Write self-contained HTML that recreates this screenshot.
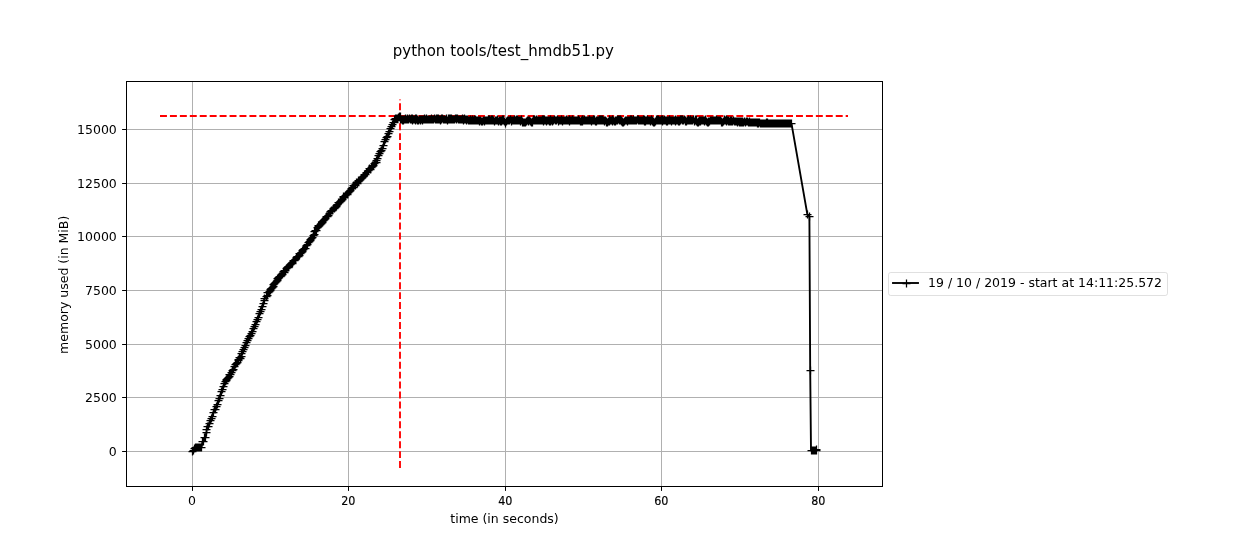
<!DOCTYPE html>
<html lang="en"><head><meta charset="utf-8"><title>python tools/test_hmdb51.py</title>
<style>html,body{margin:0;padding:0;background:#fff;overflow:hidden}svg{display:block}text{font-family:"DejaVu Sans","Liberation Sans",sans-serif;fill:#000}.t{font-size:12.5px}.title{font-size:15px}</style></head><body>
<svg width="1260" height="540" viewBox="0 0 1260 540">
<rect width="1260" height="540" fill="#fff"/>
<path d="M192.5 81.5V486.5M348.5 81.5V486.5M505.5 81.5V486.5M661.5 81.5V486.5M818.5 81.5V486.5M126.5 451.5H882.5M126.5 397.5H882.5M126.5 344.5H882.5M126.5 290.5H882.5M126.5 236.5H882.5M126.5 183.5H882.5M126.5 129.5H882.5" stroke="#b0b0b0" stroke-width="1" fill="none"/>
<g stroke="#f00" stroke-width="1.875" fill="none" stroke-dasharray="6.9375 3">
<path d="M160 116H848"/>
<path d="M400 468V99.4"/>
</g>
<path d="M192.5 451.5L193.5 450.2L194.5 448.6L195.5 447.6L196.5 447.6L197.5 447.6L198.5 447.6L199.5 447.6L200.5 447.6L201.5 447.6L202.5 441.5L203.5 441.5L204.5 437.5L205.5 437.5L206.5 432.5L206.6 429.5L207.5 426.5L208.5 426.5L209.22 423.6L210.16 420.11L211.25 418.85L212.29 416.02L213.19 412.56L214.19 409.94L215.03 409.53L215.84 409.59L216.46 406.69L217.55 404.18L218.38 400.11L219.38 398.1L220.41 395.2L221.35 391.34L222.47 389.21L223.46 386.77L224.32 383.78L225.24 381.28L226.02 380.82L226.99 379.61L227.7 378.69L228.43 377.86L229.15 376.22L229.99 374.05L230.89 374.36L231.61 372.71L232.3 370.54L233.06 369.85L233.9 369.9L234.78 366.63L235.68 365L236.55 363.7L237.31 362.59L238.11 360.64L238.86 359.02L239.52 357.88L240.39 358.3L241.17 356.02L241.94 353.82L242.87 351.75L243.99 349.82L244.98 347.9L245.94 345.65L246.95 342.06L247.87 340.34L248.88 338.14L249.55 336.94L250.39 335.54L251.39 333.85L252.35 331.26L253.27 328.63L254.22 326.62L255.35 324.23L256.2 321.96L257.21 319.95L258.1 317.64L259.13 313.3L260.06 311.44L261.1 309.12L262.16 306.02L263.21 303.46L264.1 300.68L264.99 298.2L266.06 296.39L267.01 295.03L267.74 292.65L268.62 292.42L269.39 291.04L270.25 290.33L270.83 289.76L271.8 288.11L272.42 287.55L273.29 286.32L273.98 284.46L274.83 283.09L275.72 282.57L276.36 281.42L277.23 280.84L277.9 278.07L278.83 277.21L279.42 276.62L280.3 276.49L281.05 275.83L281.83 275.41L282.62 274.05L283.52 271.4L284.27 272.66L284.93 270.26L285.73 270.47L286.52 268.12L287.41 267.61L288.08 266.98L288.81 267.12L289.71 265.74L290.58 264.69L291.23 263.98L292.11 263.09L292.92 262.16L293.64 260.59L294.33 260.97L295.17 259.69L296 259.53L296.72 257.29L297.41 256.91L298.4 256.68L299.07 255.44L299.89 253.82L300.59 253.05L301.38 252.36L302.17 251.06L302.88 250.43L303.85 249.47L304.65 248.31L305.34 248.26L306.09 245.84L306.82 245.5L307.7 244.17L308.57 242.6L309.19 241.17L310.12 240.91L310.72 239.07L311.7 238.51L312.43 237.85L313.21 235.18L314.04 234.61L314.87 231.67L315.72 230.23L316.54 230.16L317.26 227.99L318.01 225.97L318.73 226.21L319.62 225.96L320.4 224.04L321.08 223.11L322.04 222.64L322.83 221.45L323.57 220.31L324.24 219.38L325.01 218.72L325.85 218.51L326.68 216.98L327.45 216.53L328.29 215.34L329.04 213.93L329.71 213.47L330.69 211.86L331.47 210.98L332.26 210.62L332.96 210.84L333.62 208.86L334.4 208.12L335.27 207.63L336.07 205.87L336.83 206.51L337.54 204.46L338.42 202.93L339.24 202.09L339.94 202.4L340.78 201.44L341.43 200.17L342.31 199.52L343.02 197.77L343.98 196.97L344.57 197.64L345.51 195.59L346.34 194.44L347.04 193.78L347.82 194.05L348.51 192.17L349.45 191.66L350.11 190.98L350.81 190.24L351.79 188.61L352.55 187.76L353.29 187.17L353.94 185.62L354.81 185.56L355.66 185.37L356.47 182.93L357.23 183.61L358.08 181.69L358.8 180.85L359.48 180.35L360.28 179.49L361.21 178.13L361.96 178.02L362.68 177.98L363.39 176.28L364.14 174.88L365.09 174.88L365.87 174.58L366.47 172.32L367.25 172.41L368.17 170.75L368.93 170.73L369.61 168.78L370.43 169.88L371.36 167.49L372.05 166.6L372.91 165.61L373.53 165.7L374.52 163.69L375.29 162.44L376.03 162.11L376.65 160.6L377.65 158.22L378.69 155.38L379.65 153.33L380.63 151.54L381.56 150.68L382.41 148.25L383.39 145.36L384.32 141.98L385.28 139.71L386.28 137.89L387.41 136.1L388.38 133.92L389.19 131.86L390.22 128.51L391.24 126.45L392.22 124.26L393.11 122.19L394.07 122.61L394.99 119.64L395.84 118.68L396.51 118.36L397.35 118.39L398.04 117.76L398.81 117.53L399.62 116.42L400.2 116.5L400.72 119.1L401.24 119.57L401.76 119.39L402.28 120.13L402.8 119.13L403.32 120.04L403.84 119.04L404.36 119.86L404.88 119.95L405.4 118.97L405.92 119.34L406.44 119.73L406.96 119.3L407.48 118.86L408 119.81L408.52 119.41L409.04 118.97L409.56 118.77L410.08 119.45L410.6 119.12L411.12 119.88L411.64 118.93L412.16 118.72L412.68 120.02L413.2 119.31L413.72 119.94L414.24 119.53L414.76 119.98L415.28 120.06L415.8 118.82L416.32 119.1L416.84 118.97L417.36 120.09L417.88 119.71L418.4 120.04L418.92 120.13L419.44 119.85L419.96 119.97L420.48 120.06L421 119.58L421.52 119.89L422.04 120.11L422.56 119.38L423.08 119.01L423.6 119.66L424.12 118.78L424.64 119.15L425.16 119.25L425.68 119.87L426.2 118.73L426.72 119.17L427.24 119.14L427.76 119.66L428.28 119.97L428.8 119.4L429.32 119.92L429.84 119.31L430.36 119.43L430.88 119.17L431.4 118.98L431.92 119.99L432.44 119.57L432.96 119.09L433.48 119.48L434 119.29L434.52 118.75L435.04 119.71L435.56 119.96L436.08 119.58L436.6 118.91L437.12 119.31L437.64 119L438.16 118.95L438.68 119.13L439.2 120L439.72 119.92L440.24 119.85L440.76 120.05L441.28 118.86L441.8 119.02L442.32 118.76L442.84 118.71L443.36 119.63L443.88 119.29L444.4 119.52L444.92 119.96L445.44 119.12L445.96 119.05L446.48 119.89L447 118.74L447.52 120.04L448.04 119.2L448.56 118.75L449.08 119.01L449.6 118.82L450.12 119.92L450.64 118.78L451.16 118.78L451.68 119.59L452.2 119L452.72 119.19L453.24 119.84L453.76 119.32L454.28 119.76L454.8 119.11L455.32 118.89L455.84 118.8L456.36 119.92L456.88 118.88L457.4 118.81L457.92 118.93L458.44 119.46L458.96 119.7L459.48 119.42L460 119.6L460.52 119.42L461.04 119.78L461.56 119.58L462.08 118.96L462.6 119.19L463.12 120.14L463.64 119.35L464.16 119.68L464.68 118.95L465.2 119.68L465.72 119.71L466.24 119.02L466.76 120.25L467.28 119.49L467.8 119.47L468.32 120.03L468.84 120.45L469.36 120.39L469.88 120.03L470.4 119.33L470.92 120.03L471.44 120.29L471.96 120.68L472.48 119.78L473 120.24L473.52 120.56L474.04 120.68L474.56 119.72L475.08 120.96L475.6 119.82L476.12 120.93L476.64 120.95L477.16 120.57L477.68 120.46L478.2 120.17L478.72 120.23L479.24 121.03L479.76 120.64L480.28 120.35L480.8 120.19L481.32 121.14L481.84 121.05L482.36 121.04L482.88 121.04L483.4 120.19L483.92 120.9L484.44 120.68L484.96 121.02L485.48 120.75L486 120.9L486.52 120.85L487.04 120.52L487.56 120.69L488.08 119.76L488.6 120.23L489.12 120.86L489.64 119.79L490.16 120.15L490.68 120.59L491.2 120.33L491.72 119.76L492.24 119.91L492.76 120.65L493.28 120.47L493.8 120.53L494.32 121.01L494.84 121.05L495.36 120.09L495.88 120.98L496.4 120.44L496.92 120.61L497.44 119.8L497.96 120.25L498.48 121.07L499 121.06L499.52 120.27L500.04 120.02L500.56 121.09L501.08 120.4L501.6 121.07L502.12 119.7L502.64 120.54L503.16 120.07L503.68 119.66L504.2 121.89L504.72 121.89L505.24 123.7L505.76 123.7L506.28 121.89L506.8 121.89L507.32 120.79L507.84 120.03L508.36 120.82L508.88 120.82L509.4 120.34L509.92 120.78L510.44 119.7L510.96 119.96L511.48 120.23L512 121.04L512.52 120.69L513.04 120.65L513.56 120.88L514.08 120.73L514.6 119.74L515.12 120.99L515.64 120.79L516.16 119.97L516.68 120.54L517.2 120.33L517.72 119.69L518.24 120.85L518.76 120.17L519.28 120.59L519.8 120.88L520.32 121.05L520.84 120.44L521.36 120.32L521.88 119.66L522.4 121.3L522.92 122.4L523.44 122.4L523.96 122.4L524.48 122.4L525 122.4L525.52 122.4L526.04 121.3L526.56 121.3L527.08 120.77L527.6 120.19L528.12 121.1L528.64 120.4L529.16 120.26L529.68 120.27L530.2 121.3L530.72 121.3L531.24 122.4L531.76 122.4L532.28 122.4L532.8 121.3L533.32 120.87L533.84 119.77L534.36 120.54L534.88 119.81L535.4 120.19L535.92 120.15L536.44 120.57L536.96 119.66L537.48 120.07L538 120.79L538.52 120.79L539.04 120.83L539.56 120.52L540.08 120.78L540.6 120.3L541.12 120.12L541.64 120.87L542.16 120.25L542.68 119.85L543.2 121.08L543.72 119.84L544.24 120.8L544.76 119.96L545.28 120.94L545.8 120.59L546.32 121.07L546.84 120.56L547.36 120.91L547.88 120.39L548.4 120.99L548.92 120.26L549.44 121.04L549.96 120.62L550.48 121.03L551 119.71L551.52 120.2L552.04 121L552.56 120.05L553.08 120.47L553.6 120.28L554.12 119.66L554.64 119.71L555.16 120.39L555.68 120.22L556.2 120.98L556.72 120.14L557.24 119.89L557.76 119.83L558.28 120.27L558.8 121.13L559.32 121L559.84 120.45L560.36 120.43L560.88 120.58L561.4 120.76L561.92 119.73L562.44 121.06L562.96 120.96L563.48 120.35L564 120.16L564.52 120.45L565.04 120.41L565.56 120.13L566.08 119.84L566.6 120.74L567.12 120.98L567.64 120.63L568.16 120.09L568.68 120.31L569.2 119.93L569.72 121.06L570.24 120.03L570.76 120.18L571.28 120.62L571.8 120.76L572.32 120.33L572.84 119.86L573.36 120.26L573.88 120.87L574.4 120.07L574.92 120.26L575.44 120.06L575.96 120.2L576.48 120.15L577 120.37L577.52 120.89L578.04 120.87L578.56 119.91L579.08 120.98L579.6 120.98L580.12 121.7L580.64 121.7L581.16 121.7L581.68 120.98L582.2 119.98L582.72 121.13L583.24 120.53L583.76 120.79L584.28 119.96L584.8 120.58L585.32 120.09L585.84 120.38L586.36 120.32L586.88 120.94L587.4 120.19L587.92 120.76L588.44 120.11L588.96 120.56L589.48 120.93L590 120L590.52 120.28L591.04 121.12L591.56 120.89L592.08 120.98L592.6 120.55L593.12 120.21L593.64 119.86L594.16 120.95L594.68 119.82L595.2 121.05L595.72 121.04L596.24 121.07L596.76 120.82L597.28 120.64L597.8 120.23L598.32 120.9L598.84 120.52L599.36 120.42L599.88 119.85L600.4 119.83L600.92 120.66L601.44 119.86L601.96 120.7L602.48 120.3L603 119.84L603.52 120.49L604.04 120.84L604.56 121.13L605.08 120.02L605.6 120.24L606.12 121.3L606.64 122.4L607.16 122.4L607.68 122.4L608.2 121.3L608.72 121.3L609.24 121.14L609.76 119.84L610.28 120.73L610.8 120.44L611.32 120.14L611.84 120.15L612.36 121.13L612.88 119.81L613.4 120.53L613.92 120.98L614.44 121.7L614.96 121.7L615.48 121.7L616 120.98L616.52 120.98L617.04 120.26L617.56 119.83L618.08 119.99L618.6 119.99L619.12 120.67L619.64 119.85L620.16 119.94L620.68 120.25L621.2 120.25L621.72 121.3L622.24 121.3L622.76 122.4L623.28 122.4L623.8 122.4L624.32 121.3L624.84 121.3L625.36 120.91L625.88 120.73L626.4 120.98L626.92 120.82L627.44 120.75L627.96 121.02L628.48 120.84L629 120.15L629.52 120.41L630.04 119.79L630.56 120.28L631.08 120.61L631.6 119.97L632.12 120.52L632.64 120.15L633.16 120L633.68 120.19L634.2 120.54L634.72 120.35L635.24 120.32L635.76 120.81L636.28 120.61L636.8 120.53L637.32 119.82L637.84 119.68L638.36 120.21L638.88 119.83L639.4 120.63L639.92 120.93L640.44 120.76L640.96 120.32L641.48 120.91L642 120.72L642.52 120.43L643.04 120.56L643.56 119.92L644.08 119.68L644.6 121.03L645.12 121.1L645.64 120.41L646.16 120.52L646.68 120.83L647.2 119.8L647.72 120.73L648.24 120.84L648.76 120.01L649.28 120.5L649.8 120.86L650.32 121.07L650.84 120.27L651.36 119.88L651.88 120.74L652.4 120.57L652.92 121.3L653.44 121.3L653.96 122.4L654.48 122.4L655 122.4L655.52 121.3L656.04 119.81L656.56 120.54L657.08 119.7L657.6 120.8L658.12 120.76L658.64 119.66L659.16 120.62L659.68 120.11L660.2 120.09L660.72 120.93L661.24 119.76L661.76 120.28L662.28 121.08L662.8 119.78L663.32 120.56L663.84 120.04L664.36 119.99L664.88 120.16L665.4 120.72L665.92 120.28L666.44 120.72L666.96 121.03L667.48 121.02L668 120.45L668.52 120.03L669.04 120.6L669.56 119.79L670.08 120.16L670.6 120.1L671.12 121.08L671.64 120.49L672.16 120.24L672.68 120.07L673.2 120.44L673.72 120.45L674.24 120.94L674.76 120.4L675.28 121.11L675.8 119.73L676.32 120.56L676.84 120.29L677.36 120.11L677.88 120.38L678.4 121.15L678.92 120.25L679.44 121.06L679.96 120.45L680.48 120.24L681 119.76L681.52 119.78L682.04 120.95L682.56 119.85L683.08 120.08L683.6 120.2L684.12 119.76L684.64 119.96L685.16 120.98L685.68 121.7L686.2 121.7L686.72 121.7L687.24 120.98L687.76 120.98L688.28 119.95L688.8 120.01L689.32 120.34L689.84 120.25L690.36 120.14L690.88 119.86L691.4 120.4L691.92 120.21L692.44 120.22L692.96 120.84L693.48 119.73L694 119.94L694.52 121.08L695.04 120.17L695.56 119.74L696.08 120L696.6 121.3L697.12 122.4L697.64 122.4L698.16 122.4L698.68 121.3L699.2 121.3L699.72 120.49L700.24 121L700.76 120.23L701.28 120.28L701.8 120.43L702.32 120.59L702.84 120.43L703.36 120.03L703.88 120.49L704.4 121.07L704.92 120.49L705.44 120.31L705.96 119.76L706.48 121.3L707 121.3L707.52 122.4L708.04 122.4L708.56 121.3L709.08 121.3L709.6 121.02L710.12 120.95L710.64 120.17L711.16 120.49L711.68 120.21L712.2 120.96L712.72 120.69L713.24 120.68L713.76 120.56L714.28 120.59L714.8 120.71L715.32 120.96L715.84 120.09L716.36 119.9L716.88 120.15L717.4 120.83L717.92 120.93L718.44 120.26L718.96 120.48L719.48 120.85L720 120.8L720.52 120.81L721.04 121.3L721.56 122.4L722.08 122.4L722.6 122.4L723.12 121.3L723.64 121.3L724.16 119.81L724.68 120.97L725.2 120.91L725.72 120.54L726.24 121.07L726.76 119.93L727.28 120.84L727.8 120.48L728.32 120.98L728.84 121.13L729.36 121.43L729.88 121.52L730.4 120.94L730.92 121.38L731.44 120.95L731.96 121.3L732.48 121.17L733 121.56L733.52 120.91L734.04 121.58L734.56 121.73L735.08 121.66L735.6 121.16L736.12 121.7L736.64 121.94L737.16 121.35L737.68 122.21L738.2 121.61L738.72 121.52L739.24 122.05L739.76 121.5L740.28 122.11L740.8 121.95L741.32 122.49L741.84 121.85L742.36 122.05L742.88 121.61L743.4 122.03L743.92 122.25L744.44 121.81L744.96 121.99L745.48 122.4L746 122.1L746.52 121.94L747.04 121.85L747.56 121.74L748.08 122.51L748.6 122.21L749.12 122.06L749.64 121.87L750.16 122.51L750.68 122.68L751.2 122.16L751.72 122.27L752.24 122.82L752.76 122.16L753.28 122.28L753.8 122.32L754.32 122.52L754.84 122.32L755.36 122.88L755.88 122.75L756.4 122.26L756.92 122.08L757.44 122.98L757.96 123L758.48 122.84L759 123.2L759.52 122.96L760.04 123.22L760.56 123.62L761.08 123.61L761.6 123.67L762.12 123.61L762.64 123.52L763.16 123.56L763.68 123.72L764.2 123.94L764.72 123.37L765.24 123.9L765.76 123.43L766.28 123.59L766.8 122.7L767.32 122.7L767.84 123.72L768.36 123.44L768.88 123.82L769.4 123.64L769.92 123.61L770.44 123.53L770.96 123.53L771.48 123.78L772 123.36L772.52 123.31L773.04 123.7L773.56 123.45L774.08 123.37L774.6 123.35L775.12 123.26L775.64 123.51L776.16 123.7L776.68 123.81L777.2 123.44L777.72 123.24L778.24 123.37L778.76 123.29L779.28 123.5L779.8 123.22L780.32 123.76L780.84 123.63L781.36 123.78L781.88 123.89L782.4 123.87L782.92 123.42L783.44 123.29L783.96 123.48L784.48 123.85L785 123.86L785.52 123.66L786.04 123.47L786.56 123.64L787.08 123.38L787.6 123.28L788.12 123.22L788.64 123.22L789.16 123.89L789.68 123.63L790.2 123.49L790.72 123.81L791.5 123.6L807.4 214.6L809.4 216.5L810.2 370.5L811 450.5L811.7 450.5L812.5 450.5L813.5 450.6L814.5 450.5L815.5 450.5L816.4 450.5L816.6 449.6" stroke="#000" stroke-width="1.875" fill="none" stroke-linejoin="round" stroke-linecap="square"/>
<path d="M188.5 451.5h8M192.5 447.5v8M189.5 450.5h8M193.5 446.5v8M190.5 448.5h8M194.5 444.5v8M191.5 447.5h8M195.5 443.5v8M192.5 447.5h8M196.5 443.5v8M193.5 447.5h8M197.5 443.5v8M194.5 447.5h8M198.5 443.5v8M195.5 447.5h8M199.5 443.5v8M196.5 447.5h8M200.5 443.5v8M197.5 447.5h8M201.5 443.5v8M198.5 441.5h8M202.5 437.5v8M199.5 441.5h8M203.5 437.5v8M200.5 437.5h8M204.5 433.5v8M201.5 437.5h8M205.5 433.5v8M202.5 432.5h8M206.5 428.5v8M202.5 429.5h8M206.5 425.5v8M203.5 426.5h8M207.5 422.5v8M204.5 426.5h8M208.5 422.5v8M205.5 423.5h8M209.5 419.5v8M206.5 420.5h8M210.5 416.5v8M207.5 418.5h8M211.5 414.5v8M208.5 416.5h8M212.5 412.5v8M209.5 412.5h8M213.5 408.5v8M210.5 409.5h8M214.5 405.5v8M211.5 409.5h8M215.5 405.5v8M212.5 406.5h8M216.5 402.5v8M213.5 404.5h8M217.5 400.5v8M214.5 400.5h8M218.5 396.5v8M215.5 398.5h8M219.5 394.5v8M216.5 395.5h8M220.5 391.5v8M217.5 391.5h8M221.5 387.5v8M218.5 389.5h8M222.5 385.5v8M219.5 386.5h8M223.5 382.5v8M220.5 383.5h8M224.5 379.5v8M221.5 381.5h8M225.5 377.5v8M222.5 380.5h8M226.5 376.5v8M222.5 379.5h8M226.5 375.5v8M223.5 378.5h8M227.5 374.5v8M224.5 377.5h8M228.5 373.5v8M225.5 376.5h8M229.5 372.5v8M225.5 374.5h8M229.5 370.5v8M226.5 374.5h8M230.5 370.5v8M227.5 372.5h8M231.5 368.5v8M228.5 370.5h8M232.5 366.5v8M229.5 369.5h8M233.5 365.5v8M230.5 366.5h8M234.5 362.5v8M231.5 364.5h8M235.5 360.5v8M232.5 363.5h8M236.5 359.5v8M233.5 362.5h8M237.5 358.5v8M234.5 360.5h8M238.5 356.5v8M234.5 359.5h8M238.5 355.5v8M235.5 357.5h8M239.5 353.5v8M236.5 358.5h8M240.5 354.5v8M237.5 356.5h8M241.5 352.5v8M237.5 353.5h8M241.5 349.5v8M238.5 351.5h8M242.5 347.5v8M239.5 349.5h8M243.5 345.5v8M240.5 347.5h8M244.5 343.5v8M241.5 345.5h8M245.5 341.5v8M242.5 342.5h8M246.5 338.5v8M243.5 340.5h8M247.5 336.5v8M244.5 338.5h8M248.5 334.5v8M245.5 336.5h8M249.5 332.5v8M246.5 335.5h8M250.5 331.5v8M247.5 333.5h8M251.5 329.5v8M248.5 331.5h8M252.5 327.5v8M249.5 328.5h8M253.5 324.5v8M250.5 326.5h8M254.5 322.5v8M251.5 324.5h8M255.5 320.5v8M252.5 321.5h8M256.5 317.5v8M253.5 319.5h8M257.5 315.5v8M254.5 317.5h8M258.5 313.5v8M255.5 313.5h8M259.5 309.5v8M256.5 311.5h8M260.5 307.5v8M257.5 309.5h8M261.5 305.5v8M258.5 306.5h8M262.5 302.5v8M259.5 303.5h8M263.5 299.5v8M260.5 300.5h8M264.5 296.5v8M260.5 298.5h8M264.5 294.5v8M262.5 296.5h8M266.5 292.5v8M263.5 295.5h8M267.5 291.5v8M263.5 292.5h8M267.5 288.5v8M264.5 292.5h8M268.5 288.5v8M265.5 291.5h8M269.5 287.5v8M266.5 290.5h8M270.5 286.5v8M266.5 289.5h8M270.5 285.5v8M267.5 288.5h8M271.5 284.5v8M268.5 287.5h8M272.5 283.5v8M269.5 286.5h8M273.5 282.5v8M269.5 284.5h8M273.5 280.5v8M270.5 283.5h8M274.5 279.5v8M271.5 282.5h8M275.5 278.5v8M272.5 281.5h8M276.5 277.5v8M273.5 280.5h8M277.5 276.5v8M273.5 278.5h8M277.5 274.5v8M274.5 277.5h8M278.5 273.5v8M275.5 276.5h8M279.5 272.5v8M276.5 276.5h8M280.5 272.5v8M277.5 275.5h8M281.5 271.5v8M278.5 274.5h8M282.5 270.5v8M279.5 271.5h8M283.5 267.5v8M280.5 272.5h8M284.5 268.5v8M280.5 270.5h8M284.5 266.5v8M281.5 270.5h8M285.5 266.5v8M282.5 268.5h8M286.5 264.5v8M283.5 267.5h8M287.5 263.5v8M284.5 266.5h8M288.5 262.5v8M284.5 267.5h8M288.5 263.5v8M285.5 265.5h8M289.5 261.5v8M286.5 264.5h8M290.5 260.5v8M287.5 263.5h8M291.5 259.5v8M288.5 263.5h8M292.5 259.5v8M288.5 262.5h8M292.5 258.5v8M289.5 260.5h8M293.5 256.5v8M290.5 260.5h8M294.5 256.5v8M291.5 259.5h8M295.5 255.5v8M292.5 257.5h8M296.5 253.5v8M293.5 256.5h8M297.5 252.5v8M294.5 256.5h8M298.5 252.5v8M295.5 255.5h8M299.5 251.5v8M295.5 253.5h8M299.5 249.5v8M296.5 253.5h8M300.5 249.5v8M297.5 252.5h8M301.5 248.5v8M298.5 251.5h8M302.5 247.5v8M298.5 250.5h8M302.5 246.5v8M299.5 249.5h8M303.5 245.5v8M300.5 248.5h8M304.5 244.5v8M301.5 248.5h8M305.5 244.5v8M302.5 245.5h8M306.5 241.5v8M303.5 244.5h8M307.5 240.5v8M304.5 242.5h8M308.5 238.5v8M305.5 241.5h8M309.5 237.5v8M306.5 240.5h8M310.5 236.5v8M306.5 239.5h8M310.5 235.5v8M307.5 238.5h8M311.5 234.5v8M308.5 237.5h8M312.5 233.5v8M309.5 235.5h8M313.5 231.5v8M310.5 234.5h8M314.5 230.5v8M310.5 231.5h8M314.5 227.5v8M311.5 230.5h8M315.5 226.5v8M312.5 230.5h8M316.5 226.5v8M313.5 227.5h8M317.5 223.5v8M314.5 225.5h8M318.5 221.5v8M314.5 226.5h8M318.5 222.5v8M315.5 225.5h8M319.5 221.5v8M316.5 224.5h8M320.5 220.5v8M317.5 223.5h8M321.5 219.5v8M318.5 222.5h8M322.5 218.5v8M318.5 221.5h8M322.5 217.5v8M319.5 220.5h8M323.5 216.5v8M320.5 219.5h8M324.5 215.5v8M321.5 218.5h8M325.5 214.5v8M322.5 216.5h8M326.5 212.5v8M323.5 216.5h8M327.5 212.5v8M324.5 215.5h8M328.5 211.5v8M325.5 213.5h8M329.5 209.5v8M326.5 211.5h8M330.5 207.5v8M327.5 210.5h8M331.5 206.5v8M328.5 210.5h8M332.5 206.5v8M329.5 208.5h8M333.5 204.5v8M330.5 208.5h8M334.5 204.5v8M331.5 207.5h8M335.5 203.5v8M332.5 205.5h8M336.5 201.5v8M332.5 206.5h8M336.5 202.5v8M333.5 204.5h8M337.5 200.5v8M334.5 202.5h8M338.5 198.5v8M335.5 202.5h8M339.5 198.5v8M336.5 201.5h8M340.5 197.5v8M337.5 200.5h8M341.5 196.5v8M338.5 199.5h8M342.5 195.5v8M339.5 197.5h8M343.5 193.5v8M339.5 196.5h8M343.5 192.5v8M340.5 197.5h8M344.5 193.5v8M341.5 195.5h8M345.5 191.5v8M342.5 194.5h8M346.5 190.5v8M343.5 193.5h8M347.5 189.5v8M343.5 194.5h8M347.5 190.5v8M344.5 192.5h8M348.5 188.5v8M345.5 191.5h8M349.5 187.5v8M346.5 190.5h8M350.5 186.5v8M347.5 188.5h8M351.5 184.5v8M348.5 187.5h8M352.5 183.5v8M349.5 187.5h8M353.5 183.5v8M349.5 185.5h8M353.5 181.5v8M350.5 185.5h8M354.5 181.5v8M351.5 185.5h8M355.5 181.5v8M352.5 182.5h8M356.5 178.5v8M353.5 183.5h8M357.5 179.5v8M354.5 181.5h8M358.5 177.5v8M354.5 180.5h8M358.5 176.5v8M355.5 180.5h8M359.5 176.5v8M356.5 179.5h8M360.5 175.5v8M357.5 178.5h8M361.5 174.5v8M358.5 177.5h8M362.5 173.5v8M359.5 176.5h8M363.5 172.5v8M360.5 174.5h8M364.5 170.5v8M361.5 174.5h8M365.5 170.5v8M362.5 172.5h8M366.5 168.5v8M363.5 172.5h8M367.5 168.5v8M364.5 170.5h8M368.5 166.5v8M365.5 168.5h8M369.5 164.5v8M366.5 169.5h8M370.5 165.5v8M367.5 167.5h8M371.5 163.5v8M368.5 166.5h8M372.5 162.5v8M368.5 165.5h8M372.5 161.5v8M369.5 165.5h8M373.5 161.5v8M370.5 163.5h8M374.5 159.5v8M371.5 162.5h8M375.5 158.5v8M372.5 162.5h8M376.5 158.5v8M372.5 160.5h8M376.5 156.5v8M373.5 158.5h8M377.5 154.5v8M374.5 155.5h8M378.5 151.5v8M375.5 153.5h8M379.5 149.5v8M376.5 151.5h8M380.5 147.5v8M377.5 150.5h8M381.5 146.5v8M378.5 148.5h8M382.5 144.5v8M379.5 145.5h8M383.5 141.5v8M380.5 141.5h8M384.5 137.5v8M381.5 139.5h8M385.5 135.5v8M382.5 137.5h8M386.5 133.5v8M383.5 136.5h8M387.5 132.5v8M384.5 133.5h8M388.5 129.5v8M385.5 131.5h8M389.5 127.5v8M386.5 128.5h8M390.5 124.5v8M387.5 126.5h8M391.5 122.5v8M388.5 124.5h8M392.5 120.5v8M389.5 122.5h8M393.5 118.5v8M390.5 122.5h8M394.5 118.5v8M390.5 119.5h8M394.5 115.5v8M391.5 118.5h8M395.5 114.5v8M392.5 118.5h8M396.5 114.5v8M393.5 118.5h8M397.5 114.5v8M394.5 117.5h8M398.5 113.5v8M395.5 116.5h8M399.5 112.5v8M396.5 116.5h8M400.5 112.5v8M396.5 119.5h8M400.5 115.5v8M397.5 119.5h8M401.5 115.5v8M398.5 120.5h8M402.5 116.5v8M398.5 119.5h8M402.5 115.5v8M399.5 120.5h8M403.5 116.5v8M399.5 119.5h8M403.5 115.5v8M400.5 119.5h8M404.5 115.5v8M401.5 118.5h8M405.5 114.5v8M401.5 119.5h8M405.5 115.5v8M402.5 119.5h8M406.5 115.5v8M403.5 118.5h8M407.5 114.5v8M403.5 119.5h8M407.5 115.5v8M404.5 119.5h8M408.5 115.5v8M405.5 118.5h8M409.5 114.5v8M406.5 119.5h8M410.5 115.5v8M407.5 119.5h8M411.5 115.5v8M407.5 118.5h8M411.5 114.5v8M408.5 118.5h8M412.5 114.5v8M408.5 120.5h8M412.5 116.5v8M409.5 119.5h8M413.5 115.5v8M410.5 119.5h8M414.5 115.5v8M411.5 120.5h8M415.5 116.5v8M411.5 118.5h8M415.5 114.5v8M412.5 119.5h8M416.5 115.5v8M412.5 118.5h8M416.5 114.5v8M413.5 120.5h8M417.5 116.5v8M413.5 119.5h8M417.5 115.5v8M414.5 120.5h8M418.5 116.5v8M415.5 119.5h8M419.5 115.5v8M416.5 120.5h8M420.5 116.5v8M416.5 119.5h8M420.5 115.5v8M417.5 119.5h8M421.5 115.5v8M418.5 120.5h8M422.5 116.5v8M418.5 119.5h8M422.5 115.5v8M419.5 119.5h8M423.5 115.5v8M420.5 118.5h8M424.5 114.5v8M420.5 119.5h8M424.5 115.5v8M421.5 119.5h8M425.5 115.5v8M422.5 118.5h8M426.5 114.5v8M422.5 119.5h8M426.5 115.5v8M423.5 119.5h8M427.5 115.5v8M424.5 119.5h8M428.5 115.5v8M425.5 119.5h8M429.5 115.5v8M426.5 119.5h8M430.5 115.5v8M427.5 118.5h8M431.5 114.5v8M427.5 119.5h8M431.5 115.5v8M428.5 119.5h8M432.5 115.5v8M429.5 119.5h8M433.5 115.5v8M430.5 118.5h8M434.5 114.5v8M431.5 119.5h8M435.5 115.5v8M432.5 119.5h8M436.5 115.5v8M432.5 118.5h8M436.5 114.5v8M433.5 119.5h8M437.5 115.5v8M433.5 118.5h8M437.5 114.5v8M434.5 118.5h8M438.5 114.5v8M434.5 119.5h8M438.5 115.5v8M435.5 119.5h8M439.5 115.5v8M436.5 119.5h8M440.5 115.5v8M436.5 120.5h8M440.5 116.5v8M437.5 118.5h8M441.5 114.5v8M437.5 119.5h8M441.5 115.5v8M438.5 118.5h8M442.5 114.5v8M439.5 119.5h8M443.5 115.5v8M440.5 119.5h8M444.5 115.5v8M441.5 119.5h8M445.5 115.5v8M442.5 119.5h8M446.5 115.5v8M442.5 118.5h8M446.5 114.5v8M443.5 120.5h8M447.5 116.5v8M444.5 119.5h8M448.5 115.5v8M444.5 118.5h8M448.5 114.5v8M445.5 119.5h8M449.5 115.5v8M445.5 118.5h8M449.5 114.5v8M446.5 119.5h8M450.5 115.5v8M446.5 118.5h8M450.5 114.5v8M447.5 118.5h8M451.5 114.5v8M447.5 119.5h8M451.5 115.5v8M448.5 119.5h8M452.5 115.5v8M449.5 119.5h8M453.5 115.5v8M450.5 119.5h8M454.5 115.5v8M451.5 118.5h8M455.5 114.5v8M452.5 119.5h8M456.5 115.5v8M452.5 118.5h8M456.5 114.5v8M453.5 118.5h8M457.5 114.5v8M454.5 119.5h8M458.5 115.5v8M455.5 119.5h8M459.5 115.5v8M456.5 119.5h8M460.5 115.5v8M457.5 119.5h8M461.5 115.5v8M458.5 118.5h8M462.5 114.5v8M458.5 119.5h8M462.5 115.5v8M459.5 120.5h8M463.5 116.5v8M459.5 119.5h8M463.5 115.5v8M460.5 119.5h8M464.5 115.5v8M460.5 118.5h8M464.5 114.5v8M461.5 119.5h8M465.5 115.5v8M462.5 119.5h8M466.5 115.5v8M462.5 120.5h8M466.5 116.5v8M463.5 119.5h8M467.5 115.5v8M464.5 120.5h8M468.5 116.5v8M465.5 120.5h8M469.5 116.5v8M466.5 119.5h8M470.5 115.5v8M466.5 120.5h8M470.5 116.5v8M467.5 120.5h8M471.5 116.5v8M468.5 119.5h8M472.5 115.5v8M468.5 120.5h8M472.5 116.5v8M469.5 120.5h8M473.5 116.5v8M470.5 120.5h8M474.5 116.5v8M470.5 119.5h8M474.5 115.5v8M471.5 120.5h8M475.5 116.5v8M471.5 119.5h8M475.5 115.5v8M472.5 120.5h8M476.5 116.5v8M473.5 120.5h8M477.5 116.5v8M474.5 120.5h8M478.5 116.5v8M475.5 121.5h8M479.5 117.5v8M475.5 120.5h8M479.5 116.5v8M476.5 120.5h8M480.5 116.5v8M477.5 121.5h8M481.5 117.5v8M478.5 121.5h8M482.5 117.5v8M479.5 120.5h8M483.5 116.5v8M480.5 120.5h8M484.5 116.5v8M480.5 121.5h8M484.5 117.5v8M481.5 120.5h8M485.5 116.5v8M482.5 120.5h8M486.5 116.5v8M483.5 120.5h8M487.5 116.5v8M484.5 119.5h8M488.5 115.5v8M484.5 120.5h8M488.5 116.5v8M485.5 120.5h8M489.5 116.5v8M485.5 119.5h8M489.5 115.5v8M486.5 120.5h8M490.5 116.5v8M487.5 120.5h8M491.5 116.5v8M487.5 119.5h8M491.5 115.5v8M488.5 119.5h8M492.5 115.5v8M488.5 120.5h8M492.5 116.5v8M489.5 120.5h8M493.5 116.5v8M490.5 121.5h8M494.5 117.5v8M491.5 120.5h8M495.5 116.5v8M492.5 120.5h8M496.5 116.5v8M493.5 119.5h8M497.5 115.5v8M493.5 120.5h8M497.5 116.5v8M494.5 121.5h8M498.5 117.5v8M495.5 120.5h8M499.5 116.5v8M496.5 120.5h8M500.5 116.5v8M496.5 121.5h8M500.5 117.5v8M497.5 120.5h8M501.5 116.5v8M497.5 121.5h8M501.5 117.5v8M498.5 119.5h8M502.5 115.5v8M498.5 120.5h8M502.5 116.5v8M499.5 120.5h8M503.5 116.5v8M499.5 119.5h8M503.5 115.5v8M500.5 121.5h8M504.5 117.5v8M501.5 123.5h8M505.5 119.5v8M502.5 121.5h8M506.5 117.5v8M503.5 120.5h8M507.5 116.5v8M504.5 120.5h8M508.5 116.5v8M505.5 120.5h8M509.5 116.5v8M506.5 119.5h8M510.5 115.5v8M507.5 120.5h8M511.5 116.5v8M507.5 121.5h8M511.5 117.5v8M508.5 120.5h8M512.5 116.5v8M509.5 120.5h8M513.5 116.5v8M510.5 120.5h8M514.5 116.5v8M510.5 119.5h8M514.5 115.5v8M511.5 120.5h8M515.5 116.5v8M512.5 119.5h8M516.5 115.5v8M512.5 120.5h8M516.5 116.5v8M513.5 120.5h8M517.5 116.5v8M513.5 119.5h8M517.5 115.5v8M514.5 120.5h8M518.5 116.5v8M515.5 120.5h8M519.5 116.5v8M516.5 121.5h8M520.5 117.5v8M516.5 120.5h8M520.5 116.5v8M517.5 120.5h8M521.5 116.5v8M517.5 119.5h8M521.5 115.5v8M518.5 121.5h8M522.5 117.5v8M518.5 122.5h8M522.5 118.5v8M519.5 122.5h8M523.5 118.5v8M520.5 122.5h8M524.5 118.5v8M521.5 122.5h8M525.5 118.5v8M522.5 121.5h8M526.5 117.5v8M523.5 120.5h8M527.5 116.5v8M524.5 121.5h8M528.5 117.5v8M524.5 120.5h8M528.5 116.5v8M525.5 120.5h8M529.5 116.5v8M526.5 121.5h8M530.5 117.5v8M527.5 122.5h8M531.5 118.5v8M528.5 122.5h8M532.5 118.5v8M528.5 121.5h8M532.5 117.5v8M529.5 120.5h8M533.5 116.5v8M529.5 119.5h8M533.5 115.5v8M530.5 120.5h8M534.5 116.5v8M530.5 119.5h8M534.5 115.5v8M531.5 120.5h8M535.5 116.5v8M532.5 120.5h8M536.5 116.5v8M532.5 119.5h8M536.5 115.5v8M533.5 120.5h8M537.5 116.5v8M534.5 120.5h8M538.5 116.5v8M535.5 120.5h8M539.5 116.5v8M536.5 120.5h8M540.5 116.5v8M537.5 120.5h8M541.5 116.5v8M538.5 120.5h8M542.5 116.5v8M538.5 119.5h8M542.5 115.5v8M539.5 121.5h8M543.5 117.5v8M539.5 119.5h8M543.5 115.5v8M540.5 120.5h8M544.5 116.5v8M540.5 119.5h8M544.5 115.5v8M541.5 120.5h8M545.5 116.5v8M542.5 121.5h8M546.5 117.5v8M542.5 120.5h8M546.5 116.5v8M543.5 120.5h8M547.5 116.5v8M544.5 120.5h8M548.5 116.5v8M545.5 121.5h8M549.5 117.5v8M545.5 120.5h8M549.5 116.5v8M546.5 121.5h8M550.5 117.5v8M546.5 119.5h8M550.5 115.5v8M547.5 120.5h8M551.5 116.5v8M548.5 121.5h8M552.5 117.5v8M548.5 120.5h8M552.5 116.5v8M549.5 120.5h8M553.5 116.5v8M550.5 119.5h8M554.5 115.5v8M551.5 120.5h8M555.5 116.5v8M552.5 120.5h8M556.5 116.5v8M553.5 119.5h8M557.5 115.5v8M554.5 120.5h8M558.5 116.5v8M554.5 121.5h8M558.5 117.5v8M555.5 120.5h8M559.5 116.5v8M556.5 120.5h8M560.5 116.5v8M557.5 120.5h8M561.5 116.5v8M557.5 119.5h8M561.5 115.5v8M558.5 121.5h8M562.5 117.5v8M558.5 120.5h8M562.5 116.5v8M559.5 120.5h8M563.5 116.5v8M560.5 120.5h8M564.5 116.5v8M561.5 120.5h8M565.5 116.5v8M562.5 119.5h8M566.5 115.5v8M562.5 120.5h8M566.5 116.5v8M563.5 120.5h8M567.5 116.5v8M564.5 120.5h8M568.5 116.5v8M565.5 119.5h8M569.5 115.5v8M565.5 121.5h8M569.5 117.5v8M566.5 120.5h8M570.5 116.5v8M567.5 120.5h8M571.5 116.5v8M568.5 120.5h8M572.5 116.5v8M568.5 119.5h8M572.5 115.5v8M569.5 120.5h8M573.5 116.5v8M570.5 120.5h8M574.5 116.5v8M571.5 120.5h8M575.5 116.5v8M572.5 120.5h8M576.5 116.5v8M573.5 120.5h8M577.5 116.5v8M574.5 120.5h8M578.5 116.5v8M574.5 119.5h8M578.5 115.5v8M575.5 120.5h8M579.5 116.5v8M576.5 121.5h8M580.5 117.5v8M577.5 121.5h8M581.5 117.5v8M577.5 120.5h8M581.5 116.5v8M578.5 119.5h8M582.5 115.5v8M578.5 121.5h8M582.5 117.5v8M579.5 120.5h8M583.5 116.5v8M580.5 119.5h8M584.5 115.5v8M580.5 120.5h8M584.5 116.5v8M581.5 120.5h8M585.5 116.5v8M582.5 120.5h8M586.5 116.5v8M583.5 120.5h8M587.5 116.5v8M584.5 120.5h8M588.5 116.5v8M585.5 120.5h8M589.5 116.5v8M585.5 119.5h8M589.5 115.5v8M586.5 120.5h8M590.5 116.5v8M587.5 121.5h8M591.5 117.5v8M587.5 120.5h8M591.5 116.5v8M588.5 120.5h8M592.5 116.5v8M589.5 120.5h8M593.5 116.5v8M589.5 119.5h8M593.5 115.5v8M590.5 120.5h8M594.5 116.5v8M590.5 119.5h8M594.5 115.5v8M591.5 121.5h8M595.5 117.5v8M592.5 121.5h8M596.5 117.5v8M592.5 120.5h8M596.5 116.5v8M593.5 120.5h8M597.5 116.5v8M594.5 120.5h8M598.5 116.5v8M595.5 120.5h8M599.5 116.5v8M595.5 119.5h8M599.5 115.5v8M596.5 119.5h8M600.5 115.5v8M596.5 120.5h8M600.5 116.5v8M597.5 119.5h8M601.5 115.5v8M597.5 120.5h8M601.5 116.5v8M598.5 120.5h8M602.5 116.5v8M598.5 119.5h8M602.5 115.5v8M599.5 120.5h8M603.5 116.5v8M600.5 120.5h8M604.5 116.5v8M600.5 121.5h8M604.5 117.5v8M601.5 120.5h8M605.5 116.5v8M602.5 121.5h8M606.5 117.5v8M602.5 122.5h8M606.5 118.5v8M603.5 122.5h8M607.5 118.5v8M604.5 121.5h8M608.5 117.5v8M605.5 121.5h8M609.5 117.5v8M605.5 119.5h8M609.5 115.5v8M606.5 120.5h8M610.5 116.5v8M607.5 120.5h8M611.5 116.5v8M608.5 121.5h8M612.5 117.5v8M608.5 119.5h8M612.5 115.5v8M609.5 120.5h8M613.5 116.5v8M610.5 121.5h8M614.5 117.5v8M611.5 121.5h8M615.5 117.5v8M611.5 120.5h8M615.5 116.5v8M612.5 120.5h8M616.5 116.5v8M613.5 120.5h8M617.5 116.5v8M613.5 119.5h8M617.5 115.5v8M614.5 119.5h8M618.5 115.5v8M615.5 120.5h8M619.5 116.5v8M615.5 119.5h8M619.5 115.5v8M616.5 119.5h8M620.5 115.5v8M616.5 120.5h8M620.5 116.5v8M617.5 120.5h8M621.5 116.5v8M617.5 121.5h8M621.5 117.5v8M618.5 121.5h8M622.5 117.5v8M618.5 122.5h8M622.5 118.5v8M619.5 122.5h8M623.5 118.5v8M620.5 121.5h8M624.5 117.5v8M621.5 120.5h8M625.5 116.5v8M622.5 120.5h8M626.5 116.5v8M623.5 120.5h8M627.5 116.5v8M623.5 121.5h8M627.5 117.5v8M624.5 120.5h8M628.5 116.5v8M625.5 120.5h8M629.5 116.5v8M626.5 119.5h8M630.5 115.5v8M626.5 120.5h8M630.5 116.5v8M627.5 120.5h8M631.5 116.5v8M627.5 119.5h8M631.5 115.5v8M628.5 120.5h8M632.5 116.5v8M629.5 119.5h8M633.5 115.5v8M629.5 120.5h8M633.5 116.5v8M630.5 120.5h8M634.5 116.5v8M631.5 120.5h8M635.5 116.5v8M632.5 120.5h8M636.5 116.5v8M633.5 119.5h8M637.5 115.5v8M634.5 120.5h8M638.5 116.5v8M634.5 119.5h8M638.5 115.5v8M635.5 120.5h8M639.5 116.5v8M636.5 120.5h8M640.5 116.5v8M637.5 120.5h8M641.5 116.5v8M638.5 120.5h8M642.5 116.5v8M639.5 120.5h8M643.5 116.5v8M639.5 119.5h8M643.5 115.5v8M640.5 119.5h8M644.5 115.5v8M640.5 121.5h8M644.5 117.5v8M641.5 121.5h8M645.5 117.5v8M641.5 120.5h8M645.5 116.5v8M642.5 120.5h8M646.5 116.5v8M643.5 119.5h8M647.5 115.5v8M643.5 120.5h8M647.5 116.5v8M644.5 120.5h8M648.5 116.5v8M645.5 120.5h8M649.5 116.5v8M646.5 121.5h8M650.5 117.5v8M646.5 120.5h8M650.5 116.5v8M647.5 119.5h8M651.5 115.5v8M647.5 120.5h8M651.5 116.5v8M648.5 120.5h8M652.5 116.5v8M648.5 121.5h8M652.5 117.5v8M649.5 121.5h8M653.5 117.5v8M649.5 122.5h8M653.5 118.5v8M650.5 122.5h8M654.5 118.5v8M651.5 121.5h8M655.5 117.5v8M652.5 119.5h8M656.5 115.5v8M652.5 120.5h8M656.5 116.5v8M653.5 119.5h8M657.5 115.5v8M653.5 120.5h8M657.5 116.5v8M654.5 120.5h8M658.5 116.5v8M654.5 119.5h8M658.5 115.5v8M655.5 120.5h8M659.5 116.5v8M656.5 120.5h8M660.5 116.5v8M657.5 119.5h8M661.5 115.5v8M657.5 120.5h8M661.5 116.5v8M658.5 121.5h8M662.5 117.5v8M658.5 119.5h8M662.5 115.5v8M659.5 120.5h8M663.5 116.5v8M660.5 119.5h8M664.5 115.5v8M660.5 120.5h8M664.5 116.5v8M661.5 120.5h8M665.5 116.5v8M662.5 120.5h8M666.5 116.5v8M662.5 121.5h8M666.5 117.5v8M663.5 121.5h8M667.5 117.5v8M663.5 120.5h8M667.5 116.5v8M664.5 120.5h8M668.5 116.5v8M665.5 120.5h8M669.5 116.5v8M665.5 119.5h8M669.5 115.5v8M666.5 120.5h8M670.5 116.5v8M667.5 121.5h8M671.5 117.5v8M667.5 120.5h8M671.5 116.5v8M668.5 120.5h8M672.5 116.5v8M669.5 120.5h8M673.5 116.5v8M670.5 120.5h8M674.5 116.5v8M671.5 121.5h8M675.5 117.5v8M671.5 119.5h8M675.5 115.5v8M672.5 120.5h8M676.5 116.5v8M673.5 120.5h8M677.5 116.5v8M674.5 121.5h8M678.5 117.5v8M674.5 120.5h8M678.5 116.5v8M675.5 121.5h8M679.5 117.5v8M675.5 120.5h8M679.5 116.5v8M676.5 120.5h8M680.5 116.5v8M676.5 119.5h8M680.5 115.5v8M677.5 119.5h8M681.5 115.5v8M678.5 120.5h8M682.5 116.5v8M678.5 119.5h8M682.5 115.5v8M679.5 120.5h8M683.5 116.5v8M680.5 119.5h8M684.5 115.5v8M681.5 120.5h8M685.5 116.5v8M681.5 121.5h8M685.5 117.5v8M682.5 121.5h8M686.5 117.5v8M683.5 120.5h8M687.5 116.5v8M684.5 119.5h8M688.5 115.5v8M684.5 120.5h8M688.5 116.5v8M685.5 120.5h8M689.5 116.5v8M686.5 120.5h8M690.5 116.5v8M686.5 119.5h8M690.5 115.5v8M687.5 120.5h8M691.5 116.5v8M688.5 120.5h8M692.5 116.5v8M689.5 119.5h8M693.5 115.5v8M690.5 121.5h8M694.5 117.5v8M691.5 120.5h8M695.5 116.5v8M691.5 119.5h8M695.5 115.5v8M692.5 119.5h8M696.5 115.5v8M692.5 121.5h8M696.5 117.5v8M693.5 122.5h8M697.5 118.5v8M694.5 122.5h8M698.5 118.5v8M694.5 121.5h8M698.5 117.5v8M695.5 121.5h8M699.5 117.5v8M695.5 120.5h8M699.5 116.5v8M696.5 121.5h8M700.5 117.5v8M696.5 120.5h8M700.5 116.5v8M697.5 120.5h8M701.5 116.5v8M698.5 120.5h8M702.5 116.5v8M699.5 120.5h8M703.5 116.5v8M700.5 121.5h8M704.5 117.5v8M700.5 120.5h8M704.5 116.5v8M701.5 120.5h8M705.5 116.5v8M701.5 119.5h8M705.5 115.5v8M702.5 121.5h8M706.5 117.5v8M703.5 122.5h8M707.5 118.5v8M704.5 122.5h8M708.5 118.5v8M704.5 121.5h8M708.5 117.5v8M705.5 121.5h8M709.5 117.5v8M706.5 120.5h8M710.5 116.5v8M707.5 120.5h8M711.5 116.5v8M708.5 120.5h8M712.5 116.5v8M709.5 120.5h8M713.5 116.5v8M710.5 120.5h8M714.5 116.5v8M711.5 120.5h8M715.5 116.5v8M712.5 119.5h8M716.5 115.5v8M712.5 120.5h8M716.5 116.5v8M713.5 120.5h8M717.5 116.5v8M714.5 120.5h8M718.5 116.5v8M715.5 120.5h8M719.5 116.5v8M716.5 120.5h8M720.5 116.5v8M717.5 121.5h8M721.5 117.5v8M717.5 122.5h8M721.5 118.5v8M718.5 122.5h8M722.5 118.5v8M719.5 121.5h8M723.5 117.5v8M720.5 119.5h8M724.5 115.5v8M720.5 120.5h8M724.5 116.5v8M721.5 120.5h8M725.5 116.5v8M722.5 121.5h8M726.5 117.5v8M722.5 119.5h8M726.5 115.5v8M723.5 120.5h8M727.5 116.5v8M724.5 120.5h8M728.5 116.5v8M724.5 121.5h8M728.5 117.5v8M725.5 121.5h8M729.5 117.5v8M726.5 120.5h8M730.5 116.5v8M726.5 121.5h8M730.5 117.5v8M727.5 120.5h8M731.5 116.5v8M727.5 121.5h8M731.5 117.5v8M728.5 121.5h8M732.5 117.5v8M729.5 120.5h8M733.5 116.5v8M730.5 121.5h8M734.5 117.5v8M731.5 121.5h8M735.5 117.5v8M732.5 121.5h8M736.5 117.5v8M733.5 121.5h8M737.5 117.5v8M733.5 122.5h8M737.5 118.5v8M734.5 121.5h8M738.5 117.5v8M735.5 122.5h8M739.5 118.5v8M735.5 121.5h8M739.5 117.5v8M736.5 122.5h8M740.5 118.5v8M736.5 121.5h8M740.5 117.5v8M737.5 122.5h8M741.5 118.5v8M737.5 121.5h8M741.5 117.5v8M738.5 122.5h8M742.5 118.5v8M738.5 121.5h8M742.5 117.5v8M739.5 122.5h8M743.5 118.5v8M740.5 121.5h8M744.5 117.5v8M741.5 122.5h8M745.5 118.5v8M742.5 121.5h8M746.5 117.5v8M743.5 121.5h8M747.5 117.5v8M744.5 122.5h8M748.5 118.5v8M745.5 122.5h8M749.5 118.5v8M745.5 121.5h8M749.5 117.5v8M746.5 122.5h8M750.5 118.5v8M747.5 122.5h8M751.5 118.5v8M748.5 122.5h8M752.5 118.5v8M749.5 122.5h8M753.5 118.5v8M750.5 122.5h8M754.5 118.5v8M751.5 122.5h8M755.5 118.5v8M752.5 122.5h8M756.5 118.5v8M753.5 122.5h8M757.5 118.5v8M753.5 123.5h8M757.5 119.5v8M754.5 122.5h8M758.5 118.5v8M754.5 123.5h8M758.5 119.5v8M755.5 122.5h8M759.5 118.5v8M756.5 123.5h8M760.5 119.5v8M757.5 123.5h8M761.5 119.5v8M758.5 123.5h8M762.5 119.5v8M759.5 123.5h8M763.5 119.5v8M760.5 123.5h8M764.5 119.5v8M761.5 123.5h8M765.5 119.5v8M762.5 123.5h8M766.5 119.5v8M762.5 122.5h8M766.5 118.5v8M763.5 122.5h8M767.5 118.5v8M763.5 123.5h8M767.5 119.5v8M764.5 123.5h8M768.5 119.5v8M765.5 123.5h8M769.5 119.5v8M766.5 123.5h8M770.5 119.5v8M767.5 123.5h8M771.5 119.5v8M768.5 123.5h8M772.5 119.5v8M769.5 123.5h8M773.5 119.5v8M770.5 123.5h8M774.5 119.5v8M771.5 123.5h8M775.5 119.5v8M772.5 123.5h8M776.5 119.5v8M773.5 123.5h8M777.5 119.5v8M774.5 123.5h8M778.5 119.5v8M775.5 123.5h8M779.5 119.5v8M776.5 123.5h8M780.5 119.5v8M777.5 123.5h8M781.5 119.5v8M778.5 123.5h8M782.5 119.5v8M779.5 123.5h8M783.5 119.5v8M780.5 123.5h8M784.5 119.5v8M781.5 123.5h8M785.5 119.5v8M782.5 123.5h8M786.5 119.5v8M783.5 123.5h8M787.5 119.5v8M784.5 123.5h8M788.5 119.5v8M785.5 123.5h8M789.5 119.5v8M786.5 123.5h8M790.5 119.5v8M787.5 123.5h8M791.5 119.5v8M803.5 214.5h8M807.5 210.5v8M805.5 216.5h8M809.5 212.5v8M806.5 370.5h8M810.5 366.5v8M807.5 450.5h8M811.5 446.5v8M808.5 450.5h8M812.5 446.5v8M809.5 450.5h8M813.5 446.5v8M810.5 450.5h8M814.5 446.5v8M811.5 450.5h8M815.5 446.5v8M812.5 450.5h8M816.5 446.5v8M812.5 449.5h8M816.5 445.5v8" stroke="#000" stroke-width="1.25" fill="none"/>
<path d="M126.5 81.5V486.5M882.5 81.5V486.5M126.5 486.5H882.5M126.5 81.5H882.5" stroke="#000" stroke-width="1" fill="none" stroke-linecap="square"/>
<path d="M192.5 486.5v4.4M348.5 486.5v4.4M505.5 486.5v4.4M661.5 486.5v4.4M818.5 486.5v4.4M126.5 451.5h-4.4M126.5 397.5h-4.4M126.5 344.5h-4.4M126.5 290.5h-4.4M126.5 236.5h-4.4M126.5 183.5h-4.4M126.5 129.5h-4.4" stroke="#000" stroke-width="1" fill="none"/>
<g class="t" text-anchor="middle" stroke="#000" stroke-width="0.18">
<text x="192" y="504.8" stroke="none">0</text>
<text x="348.3" y="504.8" textLength="14.2" lengthAdjust="spacingAndGlyphs">20</text>
<text x="505.3" y="504.8" textLength="14.2" lengthAdjust="spacingAndGlyphs">40</text>
<text x="661.3" y="504.8" textLength="14.2" lengthAdjust="spacingAndGlyphs">60</text>
<text x="818.3" y="504.8" textLength="14.2" lengthAdjust="spacingAndGlyphs">80</text>
</g>
<g class="t" text-anchor="end">
<text x="116.8" y="456.2">0</text>
<text x="116.8" y="402.2">2500</text>
<text x="116.8" y="349.2">5000</text>
<text x="116.8" y="295.2">7500</text>
<text x="116.8" y="241.2">10000</text>
<text x="116.8" y="188.2">12500</text>
<text x="116.8" y="134.2">15000</text>
</g>
<text class="t" text-anchor="middle" x="504.5" y="523">time (in seconds)</text>
<text class="t" text-anchor="middle" transform="translate(68 284.8) rotate(-90)">memory used (in MiB)</text>
<text class="title" x="392.7" y="56" textLength="221.3">python tools/test_hmdb51.py</text>
<rect x="888.5" y="272.5" width="279" height="23" rx="2.2" ry="2.2" fill="#fff" fill-opacity="0.5" stroke="#ccc" stroke-opacity="0.6" stroke-width="1"/>
<path d="M893 283h25" stroke="#000" stroke-width="1.875" fill="none" stroke-linecap="square"/>
<path d="M902.5 283.5h8M906.5 279.5v8" stroke="#000" stroke-width="1.25" fill="none"/>
<text class="t" x="928" y="286.9">19 / 10 / 2019 - start at 14:11:25.572</text>
</svg></body></html>
